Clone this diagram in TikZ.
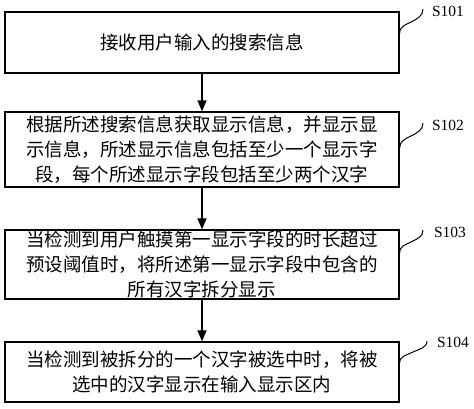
\documentclass[tikz,border=0pt]{standalone}
\usepackage{fontspec}
\newfontfamily\cjk{Noto Sans CJK SC}
\setmainfont{Liberation Serif}
\usetikzlibrary{arrows.meta}
\tikzset{
  stepbox/.style={draw, line width=1.3pt, align=center, inner sep=0pt, font=\cjk\fontsize{18.5}{25}\selectfont, minimum width=394pt},
  flow/.style={line width=1.3pt, -{Triangle[length=11pt,width=9pt]}},
  tag/.style={font=\fontsize{15.5}{17}\selectfont, inner sep=0pt},
  squig/.style={line width=1pt}
}
\begin{document}
\begin{tikzpicture}[x=1pt,y=-1pt]
\useasboundingbox (0,0) rectangle (474,408);
\node[stepbox, minimum height=61pt] (b1) at (202,42.5) {接收用户输入的搜索信息};
\node[stepbox, minimum height=75pt] (b2) at (202,149.5) {根据所述搜索信息获取显示信息，并显示显\\示信息，所述显示信息包括至少一个显示字\\段，每个所述显示字段包括至少两个汉字};
\node[stepbox, minimum height=69pt] (b3) at (202,264.5) {当检测到用户触摸第一显示字段的时长超过\\预设阈值时，将所述第一显示字段中包含的\\所有汉字拆分显示};
\node[stepbox, minimum height=60pt] (b4) at (202,372) {当检测到被拆分的一个汉字被选中时，将被\\选中的汉字显示在输入显示区内};
\draw[flow] (b1) -- (b2);
\draw[flow] (b2) -- (b3);
\draw[flow] (b3) -- (b4);
\node[tag] (t1) at (448,11) {S101};
\node[tag] (t2) at (448,125) {S102};
\node[tag] (t3) at (450,232) {S103};
\node[tag] (t4) at (453,342) {S104};
\coordinate (e1) at (423,9);
\coordinate (m1) at (411,22);
\coordinate (e2) at (423,123);
\coordinate (m2) at (411,136);
\coordinate (e3) at (423,230);
\coordinate (m3) at (411,242);
\coordinate (e4) at (427,341);
\coordinate (m4) at (413,352);
\draw[squig] ([yshift=9pt]b1.east) .. controls +(0,-7) and +(-6,3) .. (m1) .. controls +(6,-3) and +(0,7) .. (e1);
\draw[squig] ([yshift=1.5pt]b2.east) .. controls +(0,-7) and +(-6,3) .. (m2) .. controls +(6,-3) and +(0,7) .. (e2);
\draw[squig] ([yshift=11.5pt]b3.east) .. controls +(0,-7) and +(-6,3) .. (m3) .. controls +(6,-3) and +(0,7) .. (e3);
\draw[squig] ([yshift=9pt]b4.east) .. controls +(0,-7) and +(-6,3) .. (m4) .. controls +(6,-3) and +(0,7) .. (e4);
\end{tikzpicture}
\end{document}
